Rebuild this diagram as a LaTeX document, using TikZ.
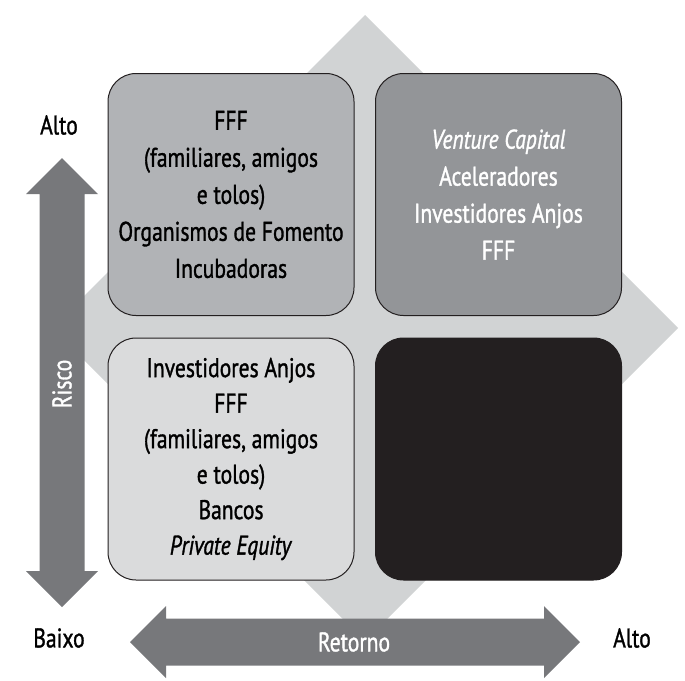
\documentclass[tikz,border=0pt]{standalone}
\usepackage{fontspec}
\setmainfont{PT Sans}[FakeStretch=0.80, FakeBold=1.2]
\definecolor{diam}{HTML}{D1D3D4}
\definecolor{tlc}{HTML}{B1B3B6}
\definecolor{trc}{HTML}{939598}
\definecolor{blc}{HTML}{DADBDC}
\definecolor{brc}{HTML}{231F20}
\definecolor{arrc}{HTML}{77787B}
\tikzset{
  quad/.style={draw=brc, line width=1pt, rounded corners=28pt, minimum width=246pt, minimum height=242pt, inner sep=0pt, align=center, font=\fontsize{27}{37}\selectfont},
  lbl/.style={inner sep=0pt, font=\fontsize{27}{30}\selectfont},
  bigarrow/.style={fill=arrc, draw=none}
}
\begin{document}
\begin{tikzpicture}[x=1pt,y=-1pt]
\useasboundingbox (0,0) rectangle (685,680);
% diamond
\fill[diam] (365,15) -- (678,328) -- (365,641) -- (52,328) -- cycle;
% quadrants
\node[quad, fill=tlc] (tl) at (231,194.5) {FFF\\(familiares, amigos\\e tolos)\\Organismos de Fomento\\Incubadoras};
\node[quad, fill=trc, text=white] (tr) at (498.5,194.5) {\textit{Venture Capital}\\Aceleradores\\Investidores Anjos\\FFF};
\node[quad, fill=blc, font=\fontsize{27}{35.5}\selectfont] (bl) at (231,459) {Investidores Anjos\\FFF\\(familiares, amigos\\e tolos)\\Bancos\\\textit{Private Equity}};
\node[quad, fill=brc] (br) at (498.5,459) {};
% arrows
\path[bigarrow] (62,158) -- (98,194) -- (84.5,194) -- (84.5,571) -- (98,571) -- (62,607) -- (26,571) -- (39.5,571) -- (39.5,194) -- (26,194) -- cycle;
\path[bigarrow] (130,642) -- (166,606) -- (166,618.5) -- (544,618.5) -- (544,606) -- (580,642) -- (544,678) -- (544,665.5) -- (166,665.5) -- (166,678) -- cycle;
% labels
\node[lbl] (altoy) at (59,125) {Alto};
\node[lbl] (baixo) at (59,638) {Baixo};
\node[lbl] (altox) at (632,638) {Alto};
\node[lbl, text=white] (retorno) at (354,642) {Retorno};
\node[lbl, text=white, rotate=90] (risco) at (62,384) {Risco};
\end{tikzpicture}
\end{document}
